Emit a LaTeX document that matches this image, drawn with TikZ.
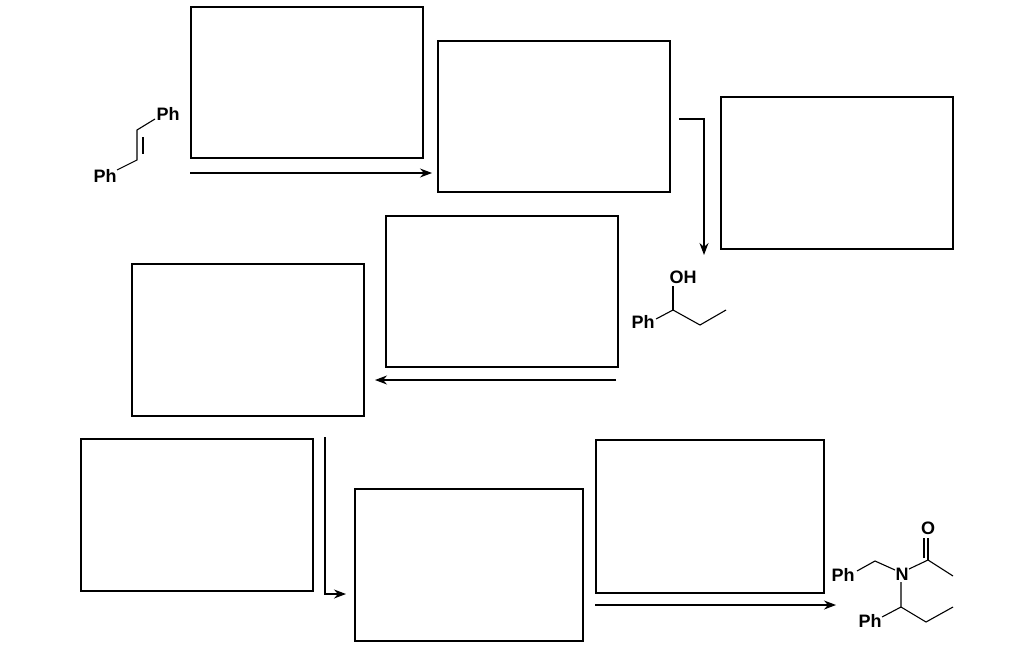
\documentclass[tikz,border=0pt]{standalone}
\usepackage{fontspec}
\setmainfont{Liberation Sans}
\usetikzlibrary{arrows.meta}
\begin{document}
\begin{tikzpicture}[x=1pt,y=-1pt,line width=1.1pt,
 bx/.style={draw,line width=1.3pt},
 arr/.style={-{Stealth[length=12pt,width=9pt]},line width=1.1pt},
 lab/.style={font=\bfseries\fontsize{18}{18}\selectfont,inner sep=1pt},
 bd/.style={line width=1.1pt}]
\useasboundingbox (0,0) rectangle (1024,653);
\draw[bx] (191,7) rectangle (423,158);
\draw[bx] (438,41) rectangle (670,192);
\draw[bx] (721,97) rectangle (953,249);
\draw[bx] (386,216) rectangle (618,367);
\draw[bx] (132,264) rectangle (364,416);
\draw[bx] (81,439) rectangle (313,591);
\draw[bx] (355,489) rectangle (583,641);
\draw[bx] (596,440) rectangle (824,593);
\coordinate (a1) at (190,173); \coordinate (a2) at (432,173);
\draw[arr] (a1) -- (a2);
\coordinate (b1) at (679,119); \coordinate (b2) at (704,255);
\draw[arr] (b1) -| (b2);
\coordinate (c1) at (616,380); \coordinate (c2) at (375,380);
\draw[arr] (c1) -- (c2);
\coordinate (d1) at (325,437); \coordinate (d2) at (346,594);
\draw[arr] (d1) |- (d2);
\coordinate (e1) at (595,605); \coordinate (e2) at (836,605);
\draw[arr] (e1) -- (e2);
% stilbene
\node[lab] (p1) at (105,176) {Ph};
\node[lab] (p2) at (168,114) {Ph};
\draw[bd] (117,170) -- (137,160) -- (137,130) -- (155,119);
\draw[bd] (143,137) -- (143,154);
% alcohol
\node[lab] (p3) at (643,322) {Ph};
\node[lab] (oh) at (683,277) {OH};
\draw[bd] (656,319) -- (673,310) -- (700,325) -- (726,310);
\draw[bd] (673,310) -- (673,286);
% amide
\node[lab] (p4) at (843,575) {Ph};
\node[lab] (n) at (902,574) {N};
\node[lab] (o) at (928,528) {O};
\node[lab] (p5) at (870,621) {Ph};
\draw[bd] (857,571) -- (875,561) -- (895,570);
\draw[bd] (909,569) -- (928,560) -- (953,576);
\draw[bd] (928,560) -- (928,538); \draw[bd] (924,558) -- (924,538);
\draw[bd] (901,582) -- (901,607) -- (926,622) -- (953,607);
\draw[bd] (901,607) -- (882,617);
\end{tikzpicture}
\end{document}
